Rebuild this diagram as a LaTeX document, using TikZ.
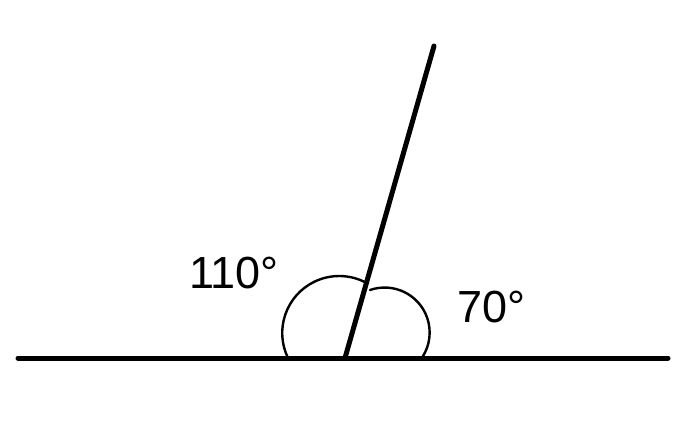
\documentclass[tikz,border=0pt]{standalone}
\usepackage{fontspec}
\setmainfont{Liberation Sans}

\begin{document}
\begin{tikzpicture}
[x=1pt,y=-1pt,line cap=round,
 leg/.style={line width=5pt},
 arcline/.style={line width=2.4pt},
 deg/.style={anchor=base west,inner sep=0pt,font=\fontsize{45}{50}\selectfont}]

\useasboundingbox (0,0) rectangle (685,444);

\coordinate (O) at (345,358);
\coordinate (L) at (18,358);
\coordinate (R) at (668,358);
\coordinate (P) at (434,46);

\path[leg]
	(L) edge (O)
	(O) edge (R)
	(O) edge (P);

\draw[arcline] (288,358) arc[start angle=-206, end angle=-62, radius=57];
\draw[arcline] (370,290) arc[start angle=-109, end angle=32, radius=45];

\node[deg] (a110) at (189,288) {110°};
\node[deg] (a70) at (457,322) {70°};
\end{tikzpicture}
\end{document}
